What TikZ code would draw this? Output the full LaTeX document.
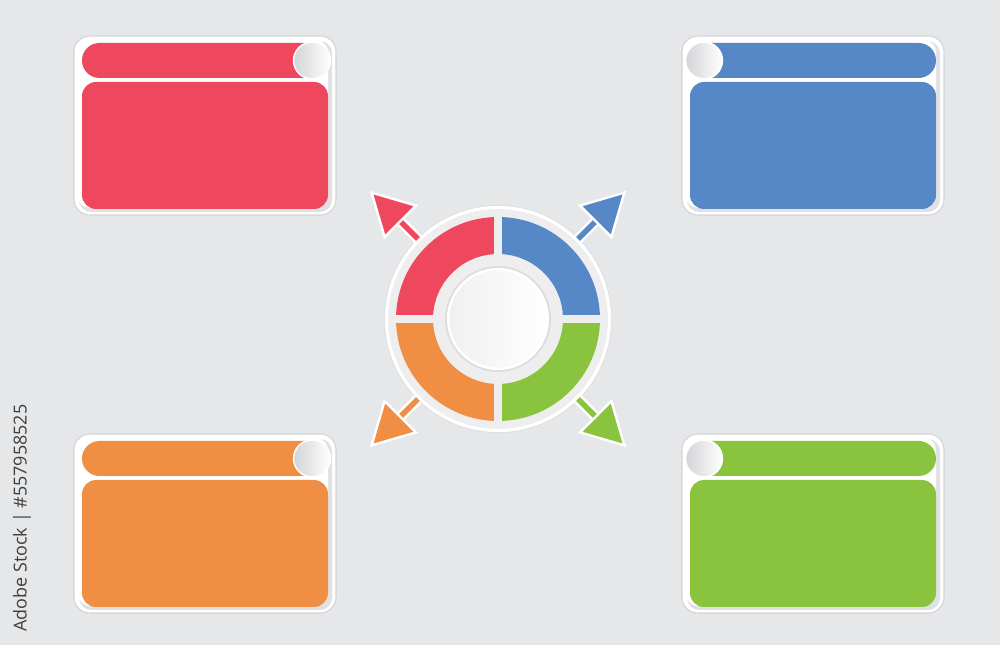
\documentclass[tikz,border=0pt]{standalone}
\usepackage{fontspec}
\newfontfamily\stampfont{Open Sans}
\usetikzlibrary{arrows.meta}
\definecolor{bggray}{HTML}{E6E7E9}
\definecolor{rimgray}{HTML}{D3D4D7}
\definecolor{hubgray}{HTML}{EEEEEF}
\definecolor{cred}{HTML}{EF485E}
\definecolor{cblue}{HTML}{5687C7}
\definecolor{cgreen}{HTML}{8AC43F}
\definecolor{corange}{HTML}{F08E44}
\definecolor{stampgray}{HTML}{3E3E3E}
\tikzset{
	frame/.style={fill=white,draw=rimgray,line width=0.6pt,rounded corners=9pt},
	knob/.style={circle,minimum size=21pt,inner sep=0pt,left color=rimgray,right color=white,draw=white,line width=0.8pt},
	pointer/.style={draw=#1,line width=3.2pt,preaction={draw=white,line width=6pt},
		-{Triangle[length=25pt,width=27pt,color=white,fill=#1,line width=1.3pt]}}
}
\begin{document}
\begin{tikzpicture}[x=0.02cm,y=0.02cm]
	\fill[bggray] (0,0) rectangle (1000,645);
	\useasboundingbox (0,0) rectangle (1000,645);
	\foreach \x/\y/\c/\k in {74/430/cred/238,682/430/cblue/22,74/32/corange/238,682/32/cgreen/22}{
		\draw[frame] (\x,\y) rectangle ++(262,179);
		\fill[rimgray!70,rounded corners=7pt] (\x+5,\y+3) rectangle (\x+258,\y+174);
		\fill[white,rounded corners=7pt] (\x+4,\y+7) rectangle (\x+254,\y+175);
		\fill[\c,rounded corners=9.9pt] (\x+8,\y+137) rectangle (\x+254,\y+172);
		\fill[\c,rounded corners=8pt] (\x+8,\y+6) rectangle (\x+254,\y+133);
		\node[knob] (knob-\c) at (\x+\k,\y+154.5) {};
	}
	\coordinate (c) at (498,326);
	\fill[rimgray!80] (c) circle (114);
	\node[circle,minimum size=127pt,inner sep=0pt,fill=hubgray,draw=white,line width=1.8pt] (hub) at (c) {};
	\foreach \a/\c in {90/cred,0/cblue,270/cgreen,180/corange}
		\fill[\c] (c) ++(\a:102) arc[start angle=\a,delta angle=90,radius=102]
			-- ++({\a+90}:-37) arc[start angle={\a+90},delta angle=-90,radius=65] -- cycle;
	\draw[hubgray,line width=4.5pt] (394,326) -- (602,326);
	\draw[hubgray,line width=4.5pt] (498,222) -- (498,430);
	\fill[rimgray!80] (c) circle (53);
	\node[circle,minimum size=56.7pt,inner sep=0pt,left color=gray!12,right color=white,draw=white,line width=1.4pt] (button) at (c) {};
	\path (c) ++(135:181) coordinate (tip-red);
	\path (c) ++(45:181) coordinate (tip-blue);
	\path (c) ++(225:181) coordinate (tip-orange);
	\path (c) ++(315:181) coordinate (tip-green);
	\draw[pointer=cred] (hub.135) -- (tip-red);
	\draw[pointer=cblue] (hub.45) -- (tip-blue);
	\draw[pointer=corange] (hub.225) -- (tip-orange);
	\draw[pointer=cgreen] (hub.315) -- (tip-green);
	\node[rotate=90,text=stampgray,font=\stampfont\fontsize{10.2}{12}\selectfont] (stamp) at (22,127) {Adobe Stock | \#557958525};
\end{tikzpicture}
\end{document}
